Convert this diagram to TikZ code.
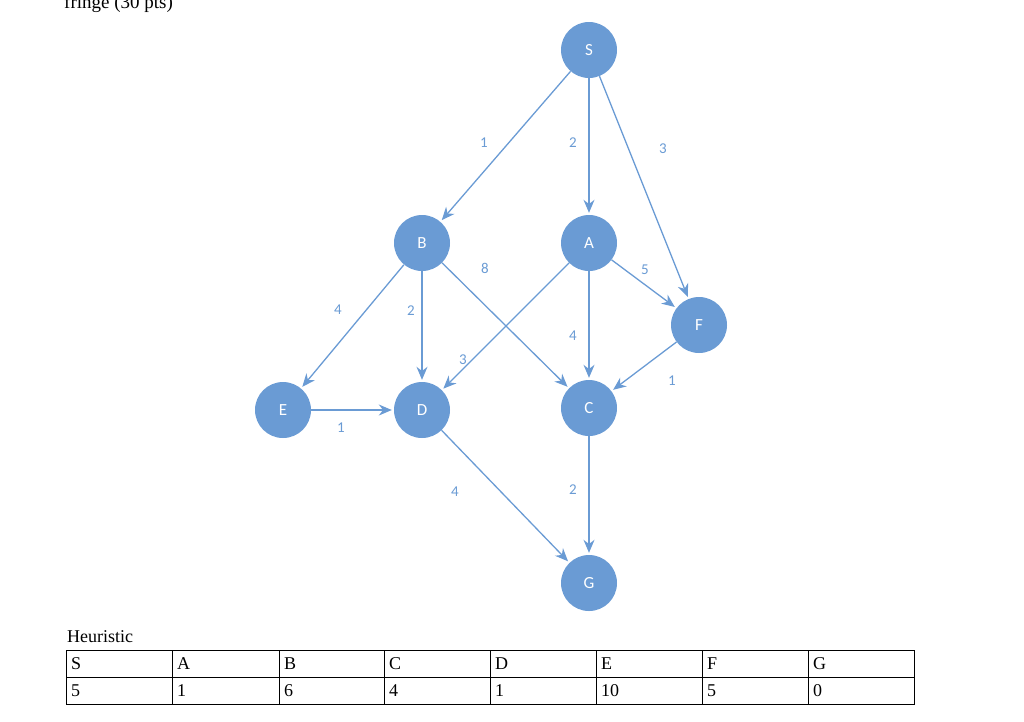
\documentclass[tikz,border=0pt]{standalone}
\usepackage{fontspec}
\usetikzlibrary{arrows.meta}
\setmainfont{Liberation Serif}
\newfontfamily\lab{Carlito}
\begin{document}
\begin{tikzpicture}[x=1pt,y=-1pt,
  nd/.style={circle,fill=nodeblue,minimum size=56pt,inner sep=0pt,text=white,font=\lab\fontsize{17}{17}\selectfont},
  ed/.style={draw=nodeblue,line width=1.3pt,-{Stealth[length=13pt,width=11pt]},shorten >=2pt},
  wt/.style={text=nodeblue,font=\lab\fontsize{15}{15}\selectfont,inner sep=0pt},
  cell/.style={font=\fontsize{18}{18}\selectfont,anchor=west,inner sep=0pt}]
\definecolor{nodeblue}{HTML}{6A9BD4}
\useasboundingbox (0,0) rectangle (1024,721);
\clip (0,0) rectangle (1024,721);
\node[font=\fontsize{19}{19}\selectfont,anchor=west,inner sep=0pt] (top) at (64,4) {fringe (30 pts)};
\node[nd] (S) at (589,50) {S};
\node[nd] (A) at (589,243) {A};
\node[nd] (B) at (422,243) {B};
\node[nd] (F) at (699,325) {F};
\node[nd] (E) at (283,410) {E};
\node[nd] (D) at (422,410) {D};
\node[nd] (C) at (589,408) {C};
\node[nd] (G) at (589,583) {G};
\draw[ed] (S) -- (B); \draw[ed] (S) -- (A); \draw[ed] (S) -- (F);
\draw[ed] (B) -- (C); \draw[ed] (A) -- (F); \draw[ed] (B) -- (E);
\draw[ed] (B) -- (D); \draw[ed] (A) -- (C); \draw[ed] (A) -- (D);
\draw[ed] (F) -- (C); \draw[ed] (E) -- (D); \draw[ed] (D) -- (G);
\draw[ed] (C) -- (G);
\node[wt] (w1) at (484,143) {1};
\node[wt] (w2) at (573,143) {2};
\node[wt] (w3) at (663,149) {3};
\node[wt] (w4) at (485,268) {8};
\node[wt] (w5) at (645,270) {5};
\node[wt] (w6) at (338,310) {4};
\node[wt] (w7) at (411,311) {2};
\node[wt] (w8) at (573,336) {4};
\node[wt] (w9) at (463,360) {3};
\node[wt] (w10) at (672,381) {1};
\node[wt] (w11) at (341,428) {1};
\node[wt] (w12) at (455,492) {4};
\node[wt] (w13) at (573,490) {2};
\node[font=\fontsize{18}{18}\selectfont,anchor=west,inner sep=0pt] (h) at (67,637) {Heuristic};
\draw[line width=0.8pt] (66,650) rectangle (914,704);
\draw[line width=0.8pt] (66,677) -- (914,677);
\foreach \x in {172,279,384,490,596,702,808} \draw[line width=0.8pt] (\x,650) -- (\x,704);
\foreach \x/\a/\b in {66/S/5,172/A/1,279/B/6,384/C/4,490/D/1,596/E/10,702/F/5,808/G/0}{
  \node[cell] at (\x+5,664) {\a};
  \node[cell] at (\x+5,691) {\b};}
\end{tikzpicture}
\end{document}
